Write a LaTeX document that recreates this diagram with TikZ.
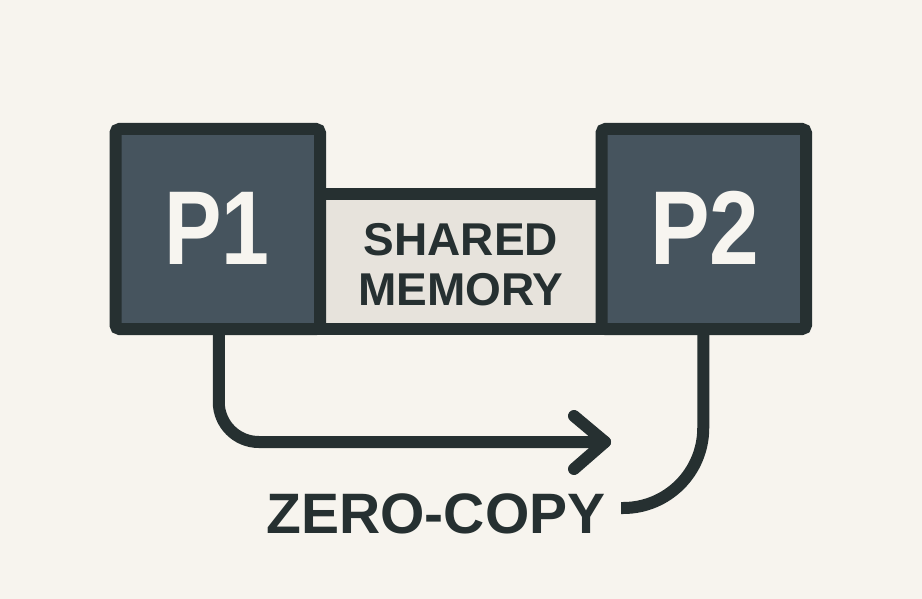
\documentclass[tikz,border=0pt]{standalone}
\usepackage{fontspec}
\setmainfont{Liberation Sans}
\definecolor{bgc}{HTML}{F7F4EE}
\definecolor{ink}{HTML}{263031}
\definecolor{slate}{HTML}{46545E}
\definecolor{lightc}{HTML}{E7E3DC}
\definecolor{whitec}{HTML}{F7F5F0}
\begin{document}
\begin{tikzpicture}[x=1pt,y=-1pt,
  box/.style={draw=ink, line width=12pt, rounded corners=4pt, fill=slate, inner sep=0pt},
  membox/.style={draw=ink, line width=12pt, fill=lightc, inner sep=0pt},
  conn/.style={draw=ink, line width=12pt, line cap=round, line join=round},
  bigtxt/.style={text=whitec, font=\fontsize{105}{110}\selectfont\bfseries},
  memtxt/.style={text=ink, align=center, font=\fontsize{46}{50}\selectfont\bfseries},
  zerotxt/.style={text=ink, font=\fontsize{57}{60}\selectfont\bfseries}]
\fill[bgc] (0,0) rectangle (922,599);
\useasboundingbox (0,0) rectangle (922,599);
% boxes
\node[membox, minimum width=281.5pt, minimum height=134.5pt] (mem) at (460.75,261.75) {};
\node[box, minimum width=204.5pt, minimum height=200pt] (p1) at (217.75,229) {};
\node[box, minimum width=204.5pt, minimum height=200pt] (p2) at (703.75,229) {};
\node[bigtxt] (p1t) at (217,228) {\scalebox{0.82}[1]{P1}};
\node[bigtxt] (p2t) at (705,228) {\scalebox{0.85}[1]{P2}};
\node[memtxt] (memt) at (461,265) {SHARED\\MEMORY};
\node[zerotxt, anchor=base] (zero) at (436,533) {ZERO-COPY};
% arrow
\coordinate (tip) at (605,442);
\coordinate (a1) at (574,416);
\coordinate (a2) at (574,469);
\draw[conn, rounded corners=40pt] ([xshift=1pt]p1.south) |- (tip);
\draw[conn] (a1) -- (tip) -- (a2);
% return curve
\coordinate (zend) at (621,508);
\draw[conn, line cap=butt, rounded corners=80pt] ([xshift=-0.5pt]p2.south) |- (zend);
\end{tikzpicture}
\end{document}
